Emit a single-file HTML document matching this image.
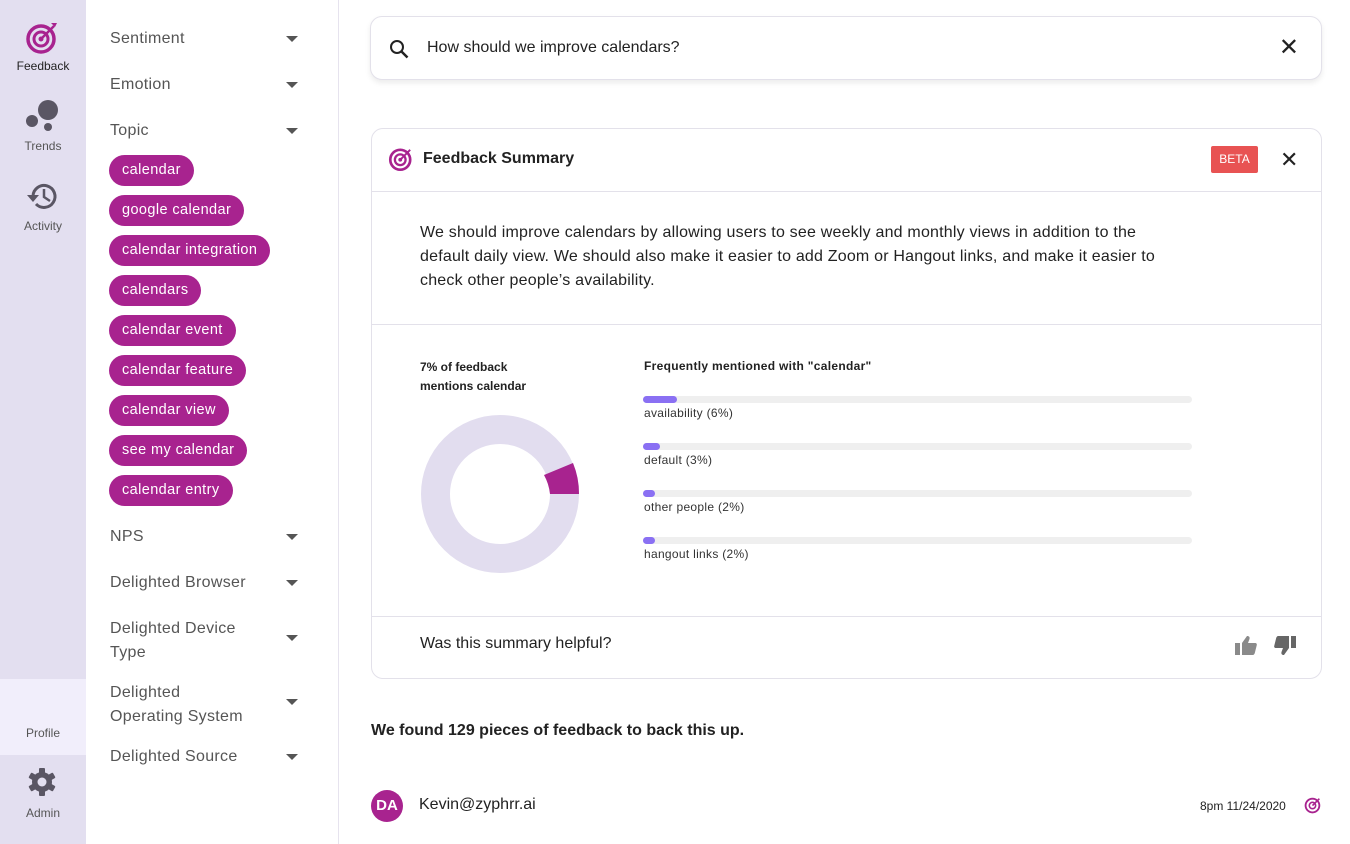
<!DOCTYPE html>
<html><head><meta charset="utf-8"><style>
*{box-sizing:border-box;margin:0;padding:0}
body{width:1350px;height:844px;overflow:hidden;background:#fff;font-family:"Liberation Sans",sans-serif;position:relative;color:#222}
.rail{position:absolute;left:0;top:0;width:86px;height:844px;background:#e3dff0}
.rail .it{position:absolute;left:0;width:86px;text-align:center;font-size:12px;color:#555}
.side{position:absolute;left:86px;top:0;width:253px;height:844px;border-right:1px solid #e6e3ee}
.f{position:absolute;left:24px;font-size:16px;color:#555;letter-spacing:.3px}
.tri{position:absolute;left:200px;width:0;height:0;border-left:6px solid transparent;border-right:6px solid transparent;border-top:6px solid #555}
.tag{position:absolute;left:23px;height:31px;line-height:31px;padding:0 13px;background:#a8238f;color:#fff;border-radius:16px;font-size:14.5px;letter-spacing:.4px}
.card{position:absolute;border:1px solid #e3e1ea;border-radius:12px;background:#fff}
.bar{position:absolute;left:643px;width:549px;height:7px;background:#efefef;border-radius:4px}
.bar i{display:block;height:7px;background:#8a70f3;border-radius:4px}
.bl{position:absolute;left:644px;font-size:12px;color:#333;letter-spacing:.3px}
</style></head><body>
<div class="rail">
<svg style="position:absolute;left:25px;top:21px" width="34" height="34" viewBox="0 0 34 34"><circle cx="16" cy="18" r="13" fill="none" stroke="#a8238f" stroke-width="3.5"/><circle cx="16" cy="18" r="7" fill="none" stroke="#a8238f" stroke-width="3"/><circle cx="16" cy="18" r="2.5" fill="#a8238f"/><path d="M16 18L29 5" stroke="#a8238f" stroke-width="2.5"/><path d="M26 2l6 0-2 4z" fill="#a8238f"/></svg>
<div class="it" style="top:59px;color:#222">Feedback</div>
<svg style="position:absolute;left:25px;top:99px" width="36" height="34"><circle cx="23" cy="11" r="10" fill="#5a5664"/><circle cx="7" cy="22" r="6" fill="#5a5664"/><circle cx="23" cy="28" r="4" fill="#5a5664"/></svg>
<div class="it" style="top:139px">Trends</div>
<svg style="position:absolute;left:26px;top:180px" width="34" height="32" viewBox="0 0 34 32"><path d="M7 16a11 11 0 1 1 3 8" fill="none" stroke="#5a5664" stroke-width="3"/><path d="M1 15h12l-6 7z" fill="#5a5664"/><path d="M18 9v8l6 4" fill="none" stroke="#5a5664" stroke-width="2.5"/></svg>
<div class="it" style="top:219px">Activity</div>
<div style="position:absolute;left:0;top:679px;width:86px;height:76px;background:#f1eefb"></div>
<div class="it" style="top:726px">Profile</div>
<svg style="position:absolute;left:28px;top:768px" width="28" height="28" viewBox="0 0 28 28"><g fill="#5a5664"><circle cx="14" cy="14" r="10"/><rect x="11" y="0" width="6" height="28" rx="1"/><rect x="11" y="0" width="6" height="28" rx="1" transform="rotate(60 14 14)"/><rect x="11" y="0" width="6" height="28" rx="1" transform="rotate(120 14 14)"/></g><circle cx="14" cy="14" r="4.5" fill="#e3dff0"/></svg>
<div class="it" style="top:806px">Admin</div>
</div>
<div class="side">
<div class="f" style="top:30px">Sentiment</div><div class="tri" style="top:36px"></div>
<div class="f" style="top:76px">Emotion</div><div class="tri" style="top:82px"></div>
<div class="f" style="top:122px">Topic</div><div class="tri" style="top:128px"></div>
<div class="tag" style="top:155px">calendar</div>
<div class="tag" style="top:195px">google calendar</div>
<div class="tag" style="top:235px">calendar integration</div>
<div class="tag" style="top:275px">calendars</div>
<div class="tag" style="top:315px">calendar event</div>
<div class="tag" style="top:355px">calendar feature</div>
<div class="tag" style="top:395px">calendar view</div>
<div class="tag" style="top:435px">see my calendar</div>
<div class="tag" style="top:475px">calendar entry</div>
<div class="f" style="top:528px">NPS</div><div class="tri" style="top:534px"></div>
<div class="f" style="top:574px">Delighted Browser</div><div class="tri" style="top:580px"></div>
<div class="f" style="top:617px;line-height:24px">Delighted Device<br>Type</div><div class="tri" style="top:635px"></div>
<div class="f" style="top:681px;line-height:24px">Delighted<br>Operating System</div><div class="tri" style="top:699px"></div>
<div class="f" style="top:748px">Delighted Source</div><div class="tri" style="top:754px"></div>
</div>
<div class="card" style="left:370px;top:16px;width:952px;height:64px;box-shadow:0 3px 6px rgba(0,0,0,.08)">
<svg style="position:absolute;left:18px;top:22px" width="20" height="20"><circle cx="8" cy="8" r="6" fill="none" stroke="#222" stroke-width="2"/><path d="M12.5 12.5l6 6" stroke="#222" stroke-width="2.5"/></svg>
<div style="position:absolute;left:56px;top:22px;font-size:16px">How should we improve calendars?</div>
<div style="position:absolute;right:22px;top:16px;font-size:24px">✕</div>
</div>
<div class="card" style="left:371px;top:128px;width:951px;height:551px">
<svg style="position:absolute;left:16px;top:17px" width="26" height="26" viewBox="0 0 34 34"><circle cx="16" cy="18" r="13" fill="none" stroke="#a8238f" stroke-width="3.5"/><circle cx="16" cy="18" r="7" fill="none" stroke="#a8238f" stroke-width="3"/><circle cx="16" cy="18" r="2.5" fill="#a8238f"/><path d="M16 18L29 5" stroke="#a8238f" stroke-width="2.5"/></svg>
<div style="position:absolute;left:51px;top:21px;font-size:16px;font-weight:bold">Feedback Summary</div>
<div style="position:absolute;left:839px;top:17px;width:47px;height:27px;background:#e85353;color:#fff;font-size:12px;line-height:27px;text-align:center;border-radius:2px">BETA</div>
<div style="position:absolute;left:908px;top:18px;font-size:22px">✕</div>
<div style="position:absolute;left:0;top:62px;width:100%;border-top:1px solid #e3e1ea"></div>
<div style="position:absolute;left:48px;top:92px;width:760px;font-size:16px;line-height:24px;letter-spacing:.2px">We should improve calendars by allowing users to see weekly and monthly views in addition to the default daily view. We should also make it easier to add Zoom or Hangout links, and make it easier to check other people’s availability.</div>
<div style="position:absolute;left:0;top:195px;width:100%;border-top:1px solid #e3e1ea"></div>
<div style="position:absolute;left:0;top:487px;width:100%;border-top:1px solid #e3e1ea"></div>
<div style="position:absolute;left:48px;top:506px;font-size:16px">Was this summary helpful?</div>
<svg style="position:absolute;left:863px;top:506px" width="22" height="20" viewBox="0 0 22 20"><rect x="0" y="8" width="5" height="12" fill="#8a8a8a"/><path d="M7 8L12 1c2 0 3 1 2.5 3L13 8h7c1.5 0 2 1 1.8 2l-2 8c-.3 1-1 2-2 2H7z" fill="#8a8a8a"/></svg>
<svg style="position:absolute;left:902px;top:507px" width="22" height="20" viewBox="0 0 22 20"><g transform="rotate(180 11 10)"><rect x="0" y="8" width="5" height="12" fill="#666"/><path d="M7 8L12 1c2 0 3 1 2.5 3L13 8h7c1.5 0 2 1 1.8 2l-2 8c-.3 1-1 2-2 2H7z" fill="#666"/></g></svg>
</div>
<div style="position:absolute;left:420px;top:358px;font-size:12px;font-weight:bold;line-height:19px">7% of feedback<br>mentions calendar</div>
<svg style="position:absolute;left:420px;top:414px" width="162" height="162"><circle cx="80" cy="80" r="64.5" fill="none" stroke="#e2ddef" stroke-width="29"/><path d="M159 80A79 79 0 0 0 153 49L124 61A50 50 0 0 1 130 80Z" fill="#a8238f"/></svg>
<div style="position:absolute;left:644px;top:359px;font-size:12px;font-weight:bold;letter-spacing:.3px">Frequently mentioned with "calendar"</div>
<div class="bar" style="top:396px"><i style="width:34px"></i></div><div class="bl" style="top:406px">availability (6%)</div>
<div class="bar" style="top:443px"><i style="width:17px"></i></div><div class="bl" style="top:453px">default (3%)</div>
<div class="bar" style="top:490px"><i style="width:12px"></i></div><div class="bl" style="top:500px">other people (2%)</div>
<div class="bar" style="top:537px"><i style="width:12px"></i></div><div class="bl" style="top:547px">hangout links (2%)</div>
<div style="position:absolute;left:371px;top:722px;font-size:16px;font-weight:bold">We found 129 pieces of feedback to back this up.</div>
<div style="position:absolute;left:371px;top:790px;width:32px;height:32px;border-radius:50%;background:#a8238f;color:#fff;font-size:15px;font-weight:bold;text-align:center;line-height:32px">DA</div>
<div style="position:absolute;left:419px;top:796px;font-size:16px">Kevin@zyphrr.ai</div>
<div style="position:absolute;left:1200px;top:799px;font-size:12px">8pm 11/24/2020</div>
<svg style="position:absolute;left:1304px;top:796px" width="18" height="18" viewBox="0 0 34 34"><circle cx="16" cy="18" r="13" fill="none" stroke="#a8238f" stroke-width="3.5"/><circle cx="16" cy="18" r="6" fill="none" stroke="#a8238f" stroke-width="3"/><path d="M16 18L29 5" stroke="#a8238f" stroke-width="3"/></svg>
</body></html>
